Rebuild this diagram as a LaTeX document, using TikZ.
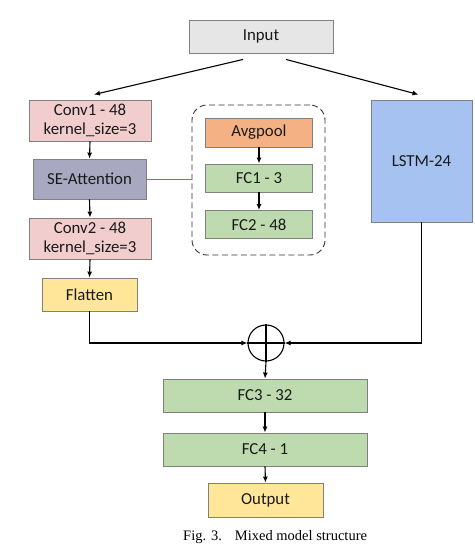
\documentclass[tikz,border=0pt]{standalone}
\usepackage{fontspec}
\setmainfont{Carlito}
\newfontfamily\capfont{Liberation Serif}
\usetikzlibrary{arrows.meta}
\definecolor{inputgray}{HTML}{E7E6E6}
\definecolor{boxborder}{HTML}{808080}
\definecolor{convpink}{HTML}{F2CDCD}
\definecolor{seattn}{HTML}{A9A8C1}
\definecolor{flatyellow}{HTML}{FFE699}
\definecolor{avgorange}{HTML}{F4B183}
\definecolor{fcgreen}{HTML}{BDDBAE}
\definecolor{lstmblue}{HTML}{A6C2F0}
\definecolor{linkblue}{HTML}{4A7CC8}
\definecolor{txt}{HTML}{1A1A1A}
\begin{document}
\begin{tikzpicture}[x=1pt,y=-1pt,
  box/.style={draw=boxborder, line width=0.9pt, inner sep=0pt, text=txt,
    font=\fontsize{16.8}{19.5}\selectfont, align=center},
  arr/.style={-{Latex[length=6pt,width=5pt]}, line width=1.1pt},
  plain/.style={line width=1.1pt}]
\useasboundingbox (0,0) rectangle (474,553);
\node[box, fill=inputgray, minimum width=144pt, minimum height=33pt] (input) at (261,36.5) {Input};
\node[box, fill=convpink, minimum width=122pt, minimum height=41pt] (conv1) at (90,120.5) {Conv1 - 48\\kernel\_size=3};
\node[box, fill=seattn, minimum width=113pt, minimum height=40pt] (se) at (89.5,179) {SE-Attention};
\node[box, fill=convpink, minimum width=122pt, minimum height=41pt] (conv2) at (90,238.5) {Conv2 - 48\\kernel\_size=3};
\node[box, fill=flatyellow, minimum width=95pt, minimum height=33pt] (flatten) at (89.5,294.5) {Flatten};
\node[draw=black!80, line width=0.9pt, dash pattern=on 6pt off 3.5pt, rounded corners=15pt,
  minimum width=133pt, minimum height=150pt, inner sep=0pt] (sebox) at (258.5,180) {};
\node[box, fill=avgorange, minimum width=107pt, minimum height=29pt] (avg) at (259,132.5) {Avgpool};
\node[box, fill=fcgreen, minimum width=107pt, minimum height=28pt] (fc1) at (259,178) {FC1 - 3};
\node[box, fill=fcgreen, minimum width=107pt, minimum height=28pt] (fc2) at (259,224.5) {FC2 - 48};
\node[box, fill=lstmblue, minimum width=101pt, minimum height=122pt] (lstm) at (421.5,161) {LSTM-24};
\node[draw, circle, line width=1.1pt, minimum size=36pt, inner sep=0pt] (plus) at (266,343) {};
\node[box, fill=fcgreen, minimum width=204pt, minimum height=33pt] (fc3) at (265,395.5) {FC3 - 32};
\node[box, fill=fcgreen, minimum width=204pt, minimum height=33pt] (fc4) at (265,449.5) {FC4 - 1};
\node[box, fill=flatyellow, minimum width=115pt, minimum height=34pt] (output) at (265.5,500) {Output};
\node[anchor=base west, inner sep=0pt, font=\capfont\fontsize{14.5}{17}\selectfont] (caption) at (183,540) {Fig. 3.\hspace{0.9em}Mixed model structure};
% connectors
\draw[arr] ([xshift=-18pt,yshift=-6pt]input.south) -- ([xshift=4pt,yshift=5pt]conv1.north);
\draw[arr] ([xshift=25pt,yshift=-6pt]input.south) -- ([xshift=-3pt,yshift=5pt]lstm.north);
\draw[arr] (conv1.south) -- (se.north);
\draw[arr] (se.south) -- (conv2.south |- conv2.north);
\draw[arr] (conv2.south) -- (flatten.north);
\draw[linkblue, line width=0.7pt] (se.east) -- (sebox.west |- se.east);
\draw[arr] (avg.south) -- (fc1.north);
\draw[arr] (fc1.south) -- (fc2.north);
\draw[plain] (plus.north) -- (plus.south);
\draw[plain] (plus.west) -- (plus.east);
\draw[arr] (flatten.south) |- (plus.west);
\draw[arr] (lstm.south) |- (plus.east);
\draw[arr] (plus.south) -- (fc3.north);
\draw[arr] (fc3.south) -- (fc4.north);
\draw[arr] (fc4.south) -- (output.north);
\end{tikzpicture}
\end{document}
